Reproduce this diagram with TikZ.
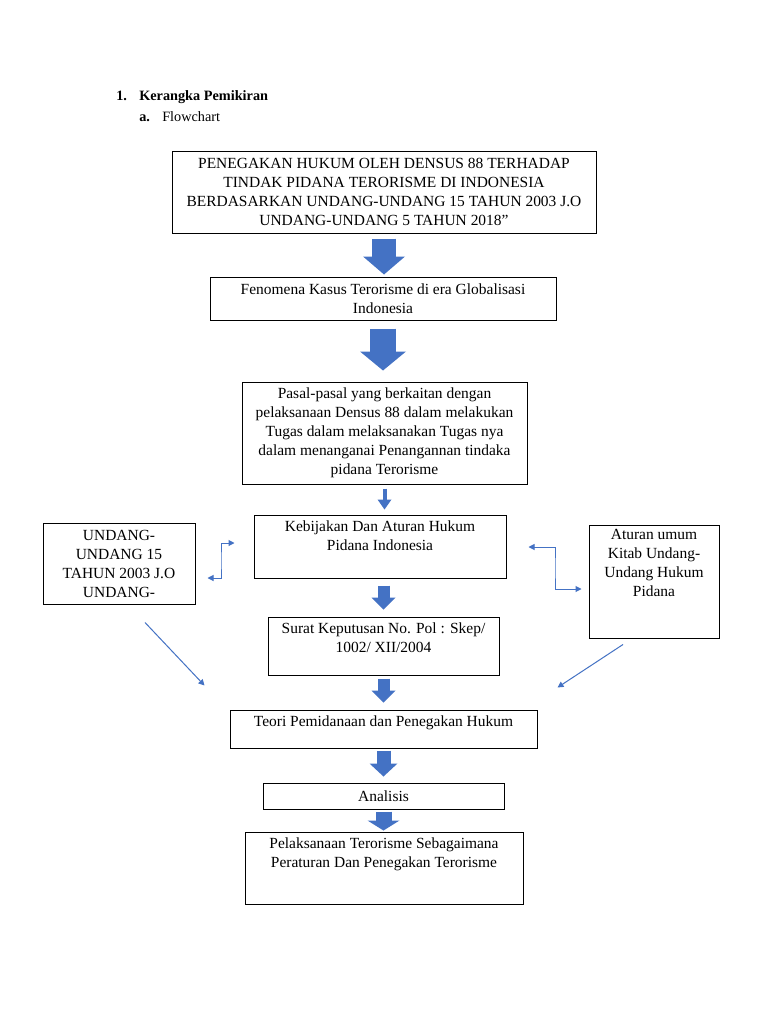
\documentclass[tikz,border=0pt]{standalone}
\usepackage{fontspec}
\setmainfont{Liberation Serif}
\usepackage{tikz}
\usetikzlibrary{arrows.meta,calc}

\definecolor{arrowblue}{RGB}{68,114,196}

\begin{document}
\begin{tikzpicture}[x=0.75pt, y=-0.75pt,
		flowbox/.style={draw, line width=0.75pt, inner sep=0pt, font=\fontsize{11.6}{14.25}\selectfont},
		headtext/.style={anchor=base west, inner sep=0pt, font=\fontsize{10.7}{13}\selectfont},
		blockarrow/.style n args={3}{draw=arrowblue, line width=#1, -{Triangle[width=#2, length=#3, line width=0pt]}},
		thinarrow/.style={draw=arrowblue, line width=0.75pt, -{Triangle[width=4.5pt, length=4.5pt]}},
		thinboth/.style={draw=arrowblue, line width=0.75pt, {Triangle[width=4.5pt, length=4.5pt]}-{Triangle[width=4.5pt, length=4.5pt]}}
	]

	\fill[white] (0,0) rectangle (768,1024);
	\useasboundingbox (0,0) rectangle (768,1024);

	\node[headtext] (nomor) at (116,100) {\textbf{1.}};
	\node[headtext] (judulbab) at (139,100) {\textbf{Kerangka Pemikiran}};
	\node[headtext] (huruf) at (139,122) {\textbf{a.}};
	\node[headtext] (subjudul) at (162,122) {Flowchart};

	\node[flowbox] (judul) at (384,192) {%
		\begin{minipage}[t][61.5pt][c]{318pt}
			\centering
			PENEGAKAN HUKUM OLEH DENSUS 88 TERHADAP\\
			TINDAK PIDANA TERORISME DI INDONESIA\\
			BERDASARKAN UNDANG-UNDANG 15 TAHUN 2003 J.O\\
			UNDANG-UNDANG 5 TAHUN 2018”
		\end{minipage}%
	};

	\node[flowbox] (fenomena) at (383,298.5) {%
		\begin{minipage}[t][32.25pt][c]{259.5pt}
			\centering
			Fenomena Kasus Terorisme di era Globalisasi\\
			Indonesia
		\end{minipage}%
	};

	\node[flowbox] (pasal) at (384.5,433) {%
		\begin{minipage}[t][76.5pt][c]{213.75pt}
			\centering
			Pasal-pasal yang berkaitan dengan\\
			pelaksanaan Densus 88 dalam melakukan\\
			Tugas dalam melaksanakan Tugas nya\\
			dalam menanganai Penangannan tindaka\\
			pidana Terorisme
		\end{minipage}%
	};

	\node[flowbox] (kebijakan) at (380,546.5) {%
		\begin{minipage}[t][47.25pt][t]{189pt}
			\vspace*{4pt}
			\centering
			Kebijakan Dan Aturan Hukum\\
			Pidana Indonesia
		\end{minipage}%
	};

	\node[flowbox] (uu) at (119,563.5) {%
		\begin{minipage}[t][60.75pt][c]{114pt}
			\centering
			UNDANG-\\
			UNDANG 15\\
			TAHUN 2003 J.O\\
			UNDANG-
		\end{minipage}%
	};

	\node[flowbox] (aturan) at (654,581.5) {%
		\begin{minipage}[t][84.75pt][t]{97.5pt}
			\vspace*{3pt}
			\centering
			Aturan umum\\
			Kitab Undang-\\
			Undang Hukum\\
			Pidana
		\end{minipage}%
	};

	\node[flowbox] (surat) at (383.5,646) {%
		\begin{minipage}[t][43.5pt][t]{173.25pt}
			\vspace*{4pt}
			\centering
			Surat Keputusan No. Pol : Skep/\\
			1002/ XII/2004
		\end{minipage}%
	};

	\node[flowbox] (teori) at (383.5,729) {%
		\begin{minipage}[t][28.5pt][t]{230.25pt}
			\vspace*{4pt}
			\centering
			Teori Pemidanaan dan Penegakan Hukum
		\end{minipage}%
	};

	\node[flowbox] (analisis) at (383.5,796) {%
		\begin{minipage}[t][19.5pt][c]{180.75pt}
			\centering
			Analisis
		\end{minipage}%
	};

	\node[flowbox] (pelaksanaan) at (384,868) {%
		\begin{minipage}[t][54pt][t]{208.5pt}
			\vspace*{4pt}
			\centering
			Pelaksanaan Terorisme Sebagaimana\\
			Peraturan Dan Penegakan Terorisme
		\end{minipage}%
	};

	\draw[blockarrow={18pt}{31.5pt}{13.5pt}, shorten <=3.75pt, shorten >=1.5pt] (judul.south) -- (judul.south |- fenomena.north);
	\draw[blockarrow={19.5pt}{34.5pt}{14.25pt}, shorten <=6pt, shorten >=8.25pt] (fenomena.south) -- (fenomena.south |- pasal.north);
	\draw[blockarrow={3pt}{10.5pt}{7.5pt}, shorten <=3pt, shorten >=3.75pt] (pasal.south) -- (pasal.south |- kebijakan.north);
	\draw[blockarrow={9pt}{18pt}{9pt}, shorten <=5.25pt, shorten >=5.25pt] (surat.north |- kebijakan.south) -- (surat.north);
	\draw[blockarrow={9pt}{18pt}{9pt}, shorten <=2.25pt, shorten >=5.25pt] (surat.south) -- (surat.south |- teori.north);
	\draw[blockarrow={10.5pt}{21pt}{9.75pt}, shorten <=1.5pt, shorten >=4.5pt] (teori.south) -- (teori.south |- analisis.north);
	\draw[blockarrow={12pt}{24pt}{7.5pt}, shorten <=1.5pt, shorten >=0.75pt] (analisis.south) -- (analisis.south |- pelaksanaan.north);

	\coordinate (uuR) at ($(uu.east)+(12,14.5)$);
	\coordinate (kebL) at ($(kebijakan.west)+(-19,-3.5)$);
	\draw[thinboth] (uuR) -| ($(uuR)!0.5!(kebL)$) |- (kebL);

	\coordinate (kebR) at ($(kebijakan.east)+(22,0.5)$);
	\coordinate (aturanL) at ($(aturan.west)+(-7,7.5)$);
	\draw[thinboth] (kebR) -| ($(kebR)!0.5!(aturanL)$) |- (aturanL);

	\coordinate (uuS) at ($(uu.south)+(26,18)$);
	\coordinate (teoriNW) at ($(teori.north west)+(-25,-24)$);
	\draw[thinarrow] (uuS) -- (teoriNW);

	\coordinate (aturanS) at ($(aturan.south)+(-31,6)$);
	\coordinate (teoriNE) at ($(teori.north east)+(20,-22)$);
	\draw[thinarrow] (aturanS) -- (teoriNE);

\end{tikzpicture}
\end{document}
